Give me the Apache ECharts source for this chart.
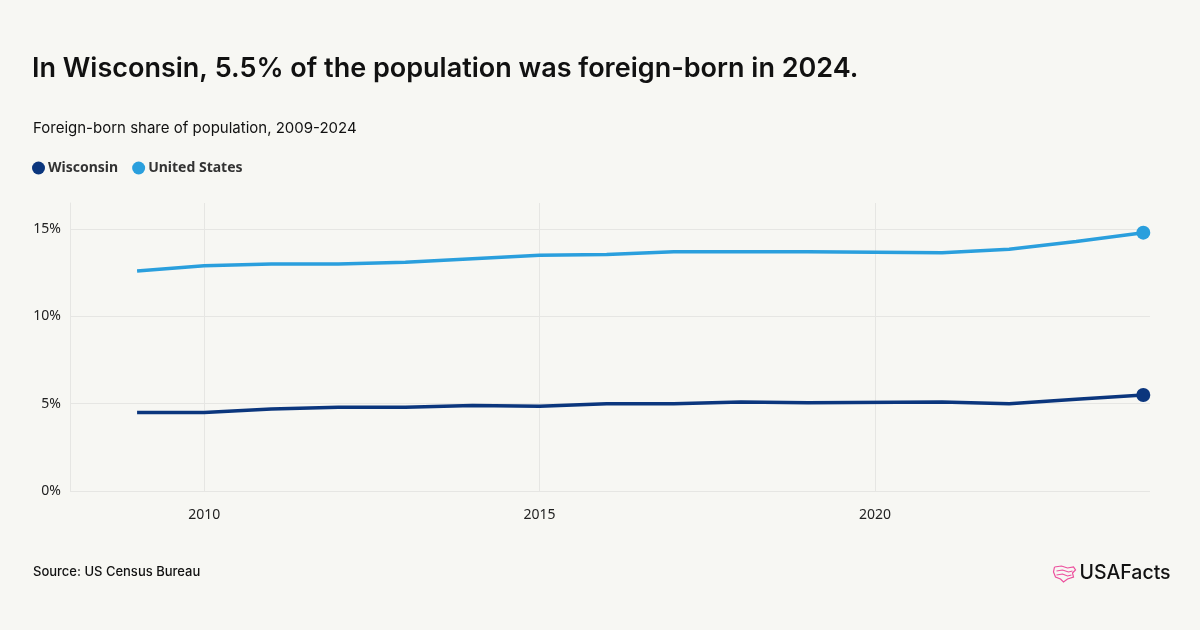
<!DOCTYPE html>
<html>
<head>
<meta charset="utf-8">
<title>Foreign-born share of population, Wisconsin</title>
<script src="https://cdn.jsdelivr.net/npm/echarts@6/dist/echarts.min.js"></script>
<style>
  html, body { margin: 0; padding: 0; background: #f7f7f3; }
  #chart { width: 1200px; height: 630px; }
</style>
</head>
<body>
<div id="chart"></div>
<script>
// years of the survey (2020 has no 1-year estimate)
var years = [2009, 2010, 2011, 2012, 2013, 2014, 2015, 2016, 2017, 2018, 2019, 2020, 2021, 2022, 2023, 2024];
// foreign-born share, percent
var wisconsin = [4.5, 4.5, 4.7, 4.8, 4.8, 4.9, 4.85, 5.0, 5.0, 5.1, 5.05, null, 5.1, 5.0, 5.25, 5.5];
var unitedStates = [12.6, 12.9, 13.0, 13.0, 13.1, 13.3, 13.5, 13.55, 13.7, 13.7, 13.7, null, 13.65, 13.85, 14.3, 14.8];
// tick labels
var xTicks = [2010, 2015, 2020];
var yTicks = [0, 5, 10, 15];

var chart = echarts.init(document.getElementById('chart'));

// pair each value with its year, mark the last point with a dot
function toPoints(values) {
  return values.map(function (v, i) {
    var p = { value: [years[i], v] };
    if (i === values.length - 1) {
      p.symbol = 'circle';
      p.symbolSize = 14;
    }
    return p;
  });
}

var gridColor = '#e6e6e3';

var option = {
  backgroundColor: '#f7f7f3',
  animation: false,
  title: [{
    text: 'In Wisconsin, 5.5% of the population was foreign-born in 2024.',
    left: 32,
    top: 55,
    padding: 0,
    textStyle: { fontFamily: 'Inter', fontWeight: 600, fontSize: 27, color: '#111111' }
  }, {
    text: 'Foreign-born share of population, 2009-2024',
    left: 33,
    top: 121,
    padding: 0,
    textStyle: { fontFamily: 'Inter', fontWeight: 400, fontSize: 15, color: '#111111' }
  }, {
    text: 'Source: US Census Bureau',
    left: 33,
    top: 566,
    padding: 0,
    textStyle: { fontFamily: 'Inter', fontWeight: 500, fontSize: 13, color: '#111111' }
  }],
  legend: {
    left: 32,
    top: 161,
    padding: 0,
    icon: 'circle',
    itemWidth: 13,
    itemHeight: 13,
    itemGap: 14,
    textStyle: { fontFamily: 'Noto Sans', fontWeight: 'bold', fontSize: 14, color: '#333333', padding: [0, 0, 0, -2] },
    data: ['Wisconsin', 'United States']
  },
  grid: { left: 70, right: 50, top: 203, bottom: 139 },
  xAxis: {
    type: 'value',
    min: 2008,
    max: 2024.1,
    axisLine: { show: false },
    axisTick: { show: false, customValues: xTicks },
    axisLabel: {
      customValues: xTicks,
      margin: 17,
      fontFamily: 'Noto Sans',
      fontSize: 14,
      color: '#222222',
      formatter: function (v) { return String(v); }
    },
    splitLine: { show: true, lineStyle: { color: gridColor, width: 1 } }
  },
  yAxis: {
    type: 'value',
    min: 0,
    max: 16.5,
    axisLine: { show: true, lineStyle: { color: gridColor, width: 1 } },
    axisTick: { show: false, customValues: yTicks },
    axisLabel: {
      customValues: yTicks,
      margin: 9,
      fontFamily: 'Noto Sans',
      fontSize: 14,
      color: '#222222',
      formatter: '{value}%'
    },
    splitLine: { show: true, lineStyle: { color: gridColor, width: 1 } }
  },
  series: [{
    name: 'Wisconsin',
    type: 'line',
    data: toPoints(wisconsin),
    connectNulls: true,
    showSymbol: true,
    symbol: 'none',
    color: '#0b367d',
    lineStyle: { width: 3.5 }
  }, {
    name: 'United States',
    type: 'line',
    data: toPoints(unitedStates),
    connectNulls: true,
    showSymbol: true,
    symbol: 'none',
    color: '#2a9fdd',
    lineStyle: { width: 3.5 }
  }],
  graphic: [{
    // USAFacts logo: pink map outline + wordmark
    type: 'group',
    left: 1051,
    top: 563,
    children: [{
      type: 'polyline',
      shape: { points: [[1, 3], [8, 2], [14, 4], [20, 3], [22, 6], [19, 9], [20, 13], [14, 15], [10, 18], [7, 15], [2, 13], [0, 8], [1, 3]] },
      style: { fill: 'none', stroke: '#ec4f9d', lineWidth: 1.2 }
    }, {
      type: 'polyline',
      shape: { points: [[3, 7], [9, 6], [15, 8], [19, 7]] },
      style: { fill: 'none', stroke: '#ec4f9d', lineWidth: 1.1 }
    }, {
      type: 'polyline',
      shape: { points: [[3, 11], [9, 10], [14, 12], [18, 11]] },
      style: { fill: 'none', stroke: '#ec4f9d', lineWidth: 1.1 }
    }, {
      type: 'text',
      left: 26,
      top: -1,
      style: { text: 'USAFacts', fontFamily: 'Inter', fontWeight: 500, fontSize: 19.5, fill: '#111111' }
    }]
  }]
};

chart.setOption(option);
</script>
</body>
</html>
